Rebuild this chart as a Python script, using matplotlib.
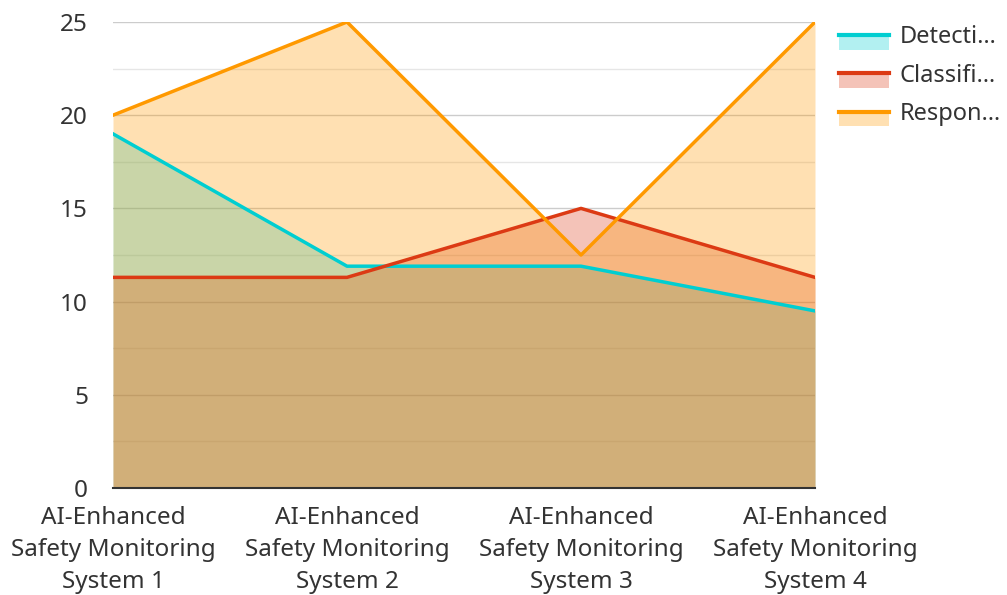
import numpy as np
import matplotlib.pyplot as plt
from matplotlib.patches import Rectangle
from matplotlib.lines import Line2D
from matplotlib.legend_handler import HandlerBase

plt.rcParams['font.family'] = ['Noto Sans', 'DejaVu Sans']

# data
systems = ["AI-Enhanced\nSafety Monitoring\nSystem 1",
           "AI-Enhanced\nSafety Monitoring\nSystem 2",
           "AI-Enhanced\nSafety Monitoring\nSystem 3",
           "AI-Enhanced\nSafety Monitoring\nSystem 4"]
detection = [19, 11.9, 11.9, 9.5]
classification = [11.3, 11.3, 15, 11.3]
response = [20, 25, 12.5, 25]
series_names = ["Detecti…", "Classifi…", "Respon…"]
colors = ["#00CED1", "#DC3A14", "#FF9900"]


class AreaHandler(HandlerBase):
    # light patch with the series line along its top edge
    def create_artists(self, legend, orig_handle, xdescent, ydescent,
                       width, height, fontsize, trans):
        c = orig_handle.get_color()
        top = -ydescent + height * 0.5
        rect = Rectangle((-xdescent, top - height * 0.8), width, height * 0.8,
                         facecolor=c, alpha=0.3, edgecolor='none', transform=trans)
        line = Line2D([-xdescent, -xdescent + width], [top, top], color=c,
                      linewidth=3, transform=trans)
        return [rect, line]


fig = plt.figure(figsize=(10.07, 5.95), dpi=100)
ax = fig.add_axes([113/1007, 1 - 488/595, (815-113)/1007, (488-22)/595])

x = np.arange(len(systems))
lines = []
for vals, c in zip([detection, classification, response], colors):
    ax.fill_between(x, 0, vals, color=c, alpha=0.3, linewidth=0, zorder=2)
for vals, c in zip([detection, classification, response], colors):
    ln, = ax.plot(x, vals, color=c, linewidth=2.5, zorder=3)
    lines.append(ln)

ax.set_xlim(0, 3)
ax.set_ylim(0, 25)
ax.set_xticks(x)
ax.set_xticklabels(systems, fontsize=17.5, color='#333333', linespacing=1.44)
ax.set_yticks(np.arange(0, 26, 5))
ax.set_yticks(np.arange(2.5, 25, 5), minor=True)
ax.tick_params(axis='y', which='both', length=0, labelsize=17.5, labelcolor='#333333', pad=18)
ax.tick_params(axis='x', length=0, pad=13)
ax.grid(axis='y', which='major', color='#cccccc', linewidth=1, zorder=1)
ax.grid(axis='y', which='minor', color='#e6e6e6', linewidth=1, zorder=1)
ax.set_axisbelow(True)
for s in ['left', 'right', 'top']:
    ax.spines[s].set_visible(False)
ax.spines['bottom'].set_color('#333333')
ax.spines['bottom'].set_linewidth(1.5)
ax.spines['bottom'].set_zorder(4)

leg = fig.legend(lines, series_names, loc='upper left',
                 bbox_to_anchor=(830/1007, 1 - 16/595), frameon=False,
                 fontsize=17, handler_map={Line2D: AreaHandler()},
                 handlelength=2.1, handleheight=0.8, labelspacing=0.6,
                 handletextpad=0.45, borderaxespad=0)
for t in leg.get_texts():
    t.set_color('#333333')

fig.savefig("out.png", dpi=100)
